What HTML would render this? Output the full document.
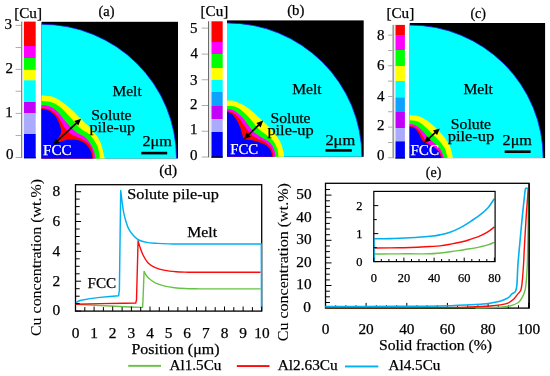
<!DOCTYPE html>
<html><head><meta charset="utf-8"><title>Figure</title>
<style>html,body{margin:0;padding:0;background:#fff}svg{display:block}text{font-family:'Liberation Serif', serif;stroke:#000;stroke-width:0.25px}</style>
</head><body>
<svg width="550" height="376" viewBox="0 0 550 376">
<rect width="550" height="376" fill="#fff"/>
<clipPath id="cpa"><rect x="41.5" y="21.8" width="136.5" height="136.6"/></clipPath>
<rect x="41.5" y="21.8" width="136.5" height="136.6" fill="#000"/>
<g clip-path="url(#cpa)">
<ellipse cx="41.5" cy="158.4" rx="135" ry="134.20000000000002" fill="#00ffff" stroke="#2020ff" stroke-width="0.8"/>
<path d="M41.8,95.4 C43.5,95.6 48.6,95.5 52.0,96.6 C55.4,97.7 58.7,99.8 62.0,102.0 C65.3,104.2 68.7,107.0 72.0,110.0 C75.3,113.0 78.7,116.7 82.0,120.0 C85.3,123.3 89.0,126.3 92.0,130.0 C95.0,133.7 98.2,137.2 100.3,142.0 C102.4,146.8 104.0,155.8 104.8,158.5 L104.8,159.4 L40.5,159.4 L40.5,95.4 Z" fill="#ffff00"/>
<path d="M41.8,101.0 C43.5,101.2 49.0,101.4 52.0,102.4 C55.0,103.4 57.0,104.6 60.0,107.0 C63.0,109.4 66.7,113.5 70.0,117.0 C73.3,120.5 76.7,125.0 80.0,128.0 C83.3,131.0 87.1,132.0 90.0,135.0 C92.9,138.0 95.6,142.1 97.3,146.0 C99.0,149.9 99.5,156.4 100.0,158.5 L100.0,159.4 L40.5,159.4 L40.5,101.0 Z" fill="#00ff00"/>
<path d="M41.8,105.0 C43.2,105.2 47.3,105.2 50.0,106.4 C52.7,107.6 55.3,109.4 58.0,112.0 C60.7,114.6 63.0,118.7 66.0,122.0 C69.0,125.3 72.7,129.3 76.0,132.0 C79.3,134.7 83.2,135.3 86.0,138.0 C88.8,140.7 91.2,144.6 92.8,148.0 C94.4,151.4 95.3,156.8 95.8,158.5 L95.8,159.4 L40.5,159.4 L40.5,105.0 Z" fill="#ff00ff"/>
<path d="M41.6,107.8 C43.1,108.2 48.0,108.5 50.8,110.0 C53.6,111.5 56.1,113.9 58.2,116.6 C60.3,119.3 61.5,123.1 63.5,126.0 C65.5,128.9 67.7,131.8 70.5,133.8 C73.3,135.9 77.5,136.7 80.5,138.3 C83.5,139.9 86.3,141.6 88.3,143.6 C90.2,145.6 91.3,147.9 92.2,150.5 C93.1,153.1 93.4,157.6 93.6,159.0 L93.6,159.4 L40.5,159.4 L40.5,107.8 Z" fill="#ff0000"/>
<path d="M41.6,109.1 C42.9,109.4 47.0,109.7 49.4,111.0 C51.8,112.3 54.4,114.7 56.2,117.2 C58.0,119.7 59.3,123.6 60.1,126.0 C60.9,128.4 61.3,129.9 61.1,131.8 C60.9,133.7 59.8,135.7 58.7,137.6 C57.6,139.5 53.9,142.8 54.3,143.5 C54.7,144.2 58.7,142.2 61.1,141.5 C63.5,140.8 65.9,139.8 68.8,139.6 C71.7,139.4 75.6,139.4 78.5,140.2 C81.4,141.0 84.2,142.4 86.3,144.4 C88.4,146.4 90.2,149.8 91.2,152.2 C92.2,154.6 92.3,157.9 92.5,159.0 L92.5,159.4 L40.5,159.4 L40.5,109.1 Z" fill="#0000ff"/>
</g>
<rect x="24" y="21.6" width="11.7" height="24.7" fill="#ff0000"/>
<rect x="24" y="46" width="11.7" height="12.3" fill="#ff00ff"/>
<rect x="24" y="58" width="11.7" height="12.1" fill="#00ff00"/>
<rect x="24" y="69.8" width="11.7" height="10.8" fill="#ffff00"/>
<rect x="24" y="80.3" width="11.7" height="22.0" fill="#00ffff"/>
<rect x="24" y="102" width="11.7" height="11.3" fill="#c200fa"/>
<rect x="24" y="113" width="11.7" height="21.3" fill="#aaaaff"/>
<rect x="24" y="134" width="11.7" height="24.3" fill="#0000ff"/>
<rect x="24" y="157" width="11.7" height="1.2" fill="#000"/>
<rect x="21.2" y="21.6" width="1.2" height="136.4" fill="#6a6a6a"/>
<rect x="22.4" y="21.6" width="1.6" height="136.4" fill="#ececec"/>
<rect x="15.6" y="24.9" width="5.6" height="0.8" fill="#9a9a9a"/>
<rect x="15.6" y="47.0" width="5.6" height="0.8" fill="#9a9a9a"/>
<rect x="15.6" y="68.9" width="5.6" height="0.8" fill="#9a9a9a"/>
<rect x="15.6" y="90.8" width="5.6" height="0.8" fill="#9a9a9a"/>
<rect x="15.6" y="112.9" width="5.6" height="0.8" fill="#9a9a9a"/>
<rect x="15.6" y="135.0" width="5.6" height="0.8" fill="#9a9a9a"/>
<rect x="15.6" y="157.0" width="5.6" height="0.8" fill="#9a9a9a"/>
<text x="11.9" y="28.8" font-size="13.8" text-anchor="end" fill="#000" textLength="7.5" lengthAdjust="spacingAndGlyphs">3</text>
<text x="13.0" y="73.0" font-size="13.8" text-anchor="end" fill="#000" textLength="7.5" lengthAdjust="spacingAndGlyphs">2</text>
<text x="12.8" y="116.5" font-size="13.8" text-anchor="end" fill="#000" textLength="7.5" lengthAdjust="spacingAndGlyphs">1</text>
<text x="13.4" y="158.8" font-size="13.8" text-anchor="end" fill="#000" textLength="7.5" lengthAdjust="spacingAndGlyphs">0</text>
<text x="14.2" y="17.5" font-size="14.4" text-anchor="start" fill="#000" textLength="27.8" lengthAdjust="spacingAndGlyphs">[Cu]</text>
<text x="98.5" y="16.4" font-size="14.4" text-anchor="start" fill="#000" textLength="16.0" lengthAdjust="spacingAndGlyphs">(a)</text>
<text x="112.5" y="96.3" font-size="14.4" text-anchor="start" fill="#000" textLength="29.2" lengthAdjust="spacingAndGlyphs">Melt</text>
<text x="91.3" y="120.3" font-size="14.4" text-anchor="start" fill="#000" textLength="40.2" lengthAdjust="spacingAndGlyphs">Solute</text>
<text x="89.6" y="132.2" font-size="14.4" text-anchor="start" fill="#000" textLength="45.3" lengthAdjust="spacingAndGlyphs">pile-up</text>
<text x="142.5" y="145.5" font-size="13.8" text-anchor="start" fill="#000" textLength="29.3" lengthAdjust="spacingAndGlyphs">2μm</text>
<rect x="141.3" y="151.8" width="25.9" height="2.6" fill="#000"/>
<text x="43.0" y="154.9" font-size="14.4" text-anchor="start" fill="#fff" style="stroke:#fff" textLength="28.5" lengthAdjust="spacingAndGlyphs">FCC</text>
<line x1="56.7" y1="141.5" x2="77.2" y2="122.3" stroke="#000" stroke-width="1.7"/>
<path d="M52.8,145.1 L59.7,142.8 L55.6,138.4 Z" fill="#000"/>
<path d="M81.1,118.7 L78.3,125.4 L74.2,121.0 Z" fill="#000"/>
<clipPath id="cpb"><rect x="227.0" y="20.4" width="136.7" height="136.4"/></clipPath>
<rect x="227.0" y="20.4" width="136.7" height="136.4" fill="#000"/>
<g clip-path="url(#cpb)">
<ellipse cx="227.0" cy="156.8" rx="134.9" ry="133.9" fill="#00ffff" stroke="#2020ff" stroke-width="0.8"/>
<path d="M227.3,100.6 C228.5,100.7 231.8,100.4 234.6,101.2 C237.4,102.0 241.0,103.7 244.2,105.6 C247.4,107.5 250.6,110.1 253.8,112.8 C257.0,115.5 260.1,118.5 263.3,121.6 C266.5,124.7 270.1,127.9 272.9,131.2 C275.7,134.5 278.4,138.2 280.1,141.5 C281.8,144.8 282.6,148.5 283.3,151.1 C284.0,153.7 284.0,156.0 284.1,157.0 L284.1,157.8 L226.0,157.8 L226.0,100.6 Z" fill="#ffff00"/>
<path d="M227.3,105.9 C228.5,106.0 232.1,105.7 234.6,106.6 C237.1,107.5 239.9,109.1 242.6,111.2 C245.3,113.3 247.9,116.3 250.6,119.2 C253.2,122.1 255.8,126.2 258.5,128.8 C261.1,131.5 264.0,133.0 266.5,135.1 C269.0,137.2 271.9,139.1 273.7,141.5 C275.5,143.9 276.6,146.9 277.4,149.5 C278.2,152.1 278.3,155.8 278.5,157.0 L278.5,157.8 L226.0,157.8 L226.0,105.9 Z" fill="#00ff00"/>
<path d="M227.3,109.2 C228.2,109.3 230.7,109.0 233.0,110.1 C235.3,111.2 238.6,113.7 241.0,116.0 C243.4,118.3 245.3,121.3 247.4,124.0 C249.5,126.7 251.4,129.7 253.8,131.9 C256.2,134.2 259.1,135.8 261.7,137.5 C264.3,139.2 267.6,140.3 269.7,142.3 C271.8,144.3 273.2,147.1 274.2,149.5 C275.2,151.9 275.5,155.8 275.8,157.0 L275.8,157.8 L226.0,157.8 L226.0,109.2 Z" fill="#ff00ff"/>
<path d="M227.3,110.8 C228.2,111.1 231.0,111.2 233.0,112.5 C235.0,113.8 237.5,116.2 239.4,118.4 C241.3,120.6 242.5,123.2 244.2,125.6 C245.9,128.0 247.7,130.6 249.8,132.7 C251.9,134.8 254.4,136.8 256.9,138.3 C259.4,139.8 262.5,140.3 264.9,141.9 C267.3,143.5 269.8,145.4 271.3,147.9 C272.8,150.4 273.3,155.5 273.7,157.0 L273.7,157.8 L226.0,157.8 L226.0,110.8 Z" fill="#ff0000"/>
<path d="M227.3,112.0 C228.0,112.3 229.9,112.4 231.4,113.6 C232.9,114.8 234.7,116.9 236.2,119.2 C237.7,121.5 239.3,125.0 240.2,127.2 C241.1,129.4 241.1,130.7 241.8,132.7 C242.5,134.7 242.7,137.9 244.2,139.1 C245.7,140.3 248.2,139.4 250.6,139.9 C253.0,140.4 256.0,141.1 258.5,141.9 C261.0,142.8 263.7,143.6 265.7,145.0 C267.7,146.4 269.4,148.3 270.5,150.3 C271.6,152.3 272.2,155.9 272.6,157.0 L272.6,157.8 L226.0,157.8 L226.0,112.0 Z" fill="#0000ff"/>
</g>
<rect x="211.3" y="21.3" width="11.4" height="21.0" fill="#ff0000"/>
<rect x="211.3" y="42" width="11.4" height="12.3" fill="#ff00ff"/>
<rect x="211.3" y="54" width="11.4" height="14.3" fill="#00ff00"/>
<rect x="211.3" y="68" width="11.4" height="12.3" fill="#ffff00"/>
<rect x="211.3" y="80" width="11.4" height="12.3" fill="#00ffff"/>
<rect x="211.3" y="92" width="11.4" height="14.3" fill="#0ca2ff"/>
<rect x="211.3" y="106" width="11.4" height="13.3" fill="#c200fa"/>
<rect x="211.3" y="119" width="11.4" height="13.3" fill="#aaaaff"/>
<rect x="211.3" y="132" width="11.4" height="25.7" fill="#0000ff"/>
<rect x="211.3" y="156.4" width="11.4" height="1.2" fill="#000"/>
<rect x="208.0" y="21.3" width="1.2" height="136.1" fill="#6a6a6a"/>
<rect x="209.2" y="21.3" width="2.1" height="136.1" fill="#ececec"/>
<rect x="201.7" y="27.7" width="6.3" height="0.8" fill="#9a9a9a"/>
<rect x="201.7" y="53.7" width="6.3" height="0.8" fill="#9a9a9a"/>
<rect x="201.7" y="79.4" width="6.3" height="0.8" fill="#9a9a9a"/>
<rect x="201.7" y="105.1" width="6.3" height="0.8" fill="#9a9a9a"/>
<rect x="201.7" y="130.8" width="6.3" height="0.8" fill="#9a9a9a"/>
<rect x="201.7" y="156.6" width="6.3" height="0.8" fill="#9a9a9a"/>
<text x="197.6" y="32.6" font-size="13.8" text-anchor="end" fill="#000" textLength="7.5" lengthAdjust="spacingAndGlyphs">5</text>
<text x="198.0" y="58.2" font-size="13.8" text-anchor="end" fill="#000" textLength="7.5" lengthAdjust="spacingAndGlyphs">4</text>
<text x="197.6" y="84.6" font-size="13.8" text-anchor="end" fill="#000" textLength="7.5" lengthAdjust="spacingAndGlyphs">3</text>
<text x="197.6" y="108.9" font-size="13.8" text-anchor="end" fill="#000" textLength="7.5" lengthAdjust="spacingAndGlyphs">2</text>
<text x="197.6" y="133.5" font-size="13.8" text-anchor="end" fill="#000" textLength="7.5" lengthAdjust="spacingAndGlyphs">1</text>
<text x="197.6" y="160.2" font-size="13.8" text-anchor="end" fill="#000" textLength="7.5" lengthAdjust="spacingAndGlyphs">0</text>
<text x="200.6" y="16.4" font-size="14.4" text-anchor="start" fill="#000" textLength="27.6" lengthAdjust="spacingAndGlyphs">[Cu]</text>
<text x="287.2" y="14.5" font-size="14.4" text-anchor="start" fill="#000" textLength="17.2" lengthAdjust="spacingAndGlyphs">(b)</text>
<text x="292.2" y="93.7" font-size="14.4" text-anchor="start" fill="#000" textLength="29.5" lengthAdjust="spacingAndGlyphs">Melt</text>
<text x="270.6" y="122.7" font-size="14.4" text-anchor="start" fill="#000" textLength="39.9" lengthAdjust="spacingAndGlyphs">Solute</text>
<text x="267.4" y="135.2" font-size="14.4" text-anchor="start" fill="#000" textLength="46.3" lengthAdjust="spacingAndGlyphs">pile-up</text>
<text x="325.4" y="144.5" font-size="13.8" text-anchor="start" fill="#000" textLength="29.8" lengthAdjust="spacingAndGlyphs">2μm</text>
<rect x="325.5" y="149.1" width="26.3" height="2.6" fill="#000"/>
<text x="230.2" y="154.0" font-size="14.4" text-anchor="start" fill="#fff" style="stroke:#fff" textLength="27.9" lengthAdjust="spacingAndGlyphs">FCC</text>
<line x1="247.8" y1="135.6" x2="259.4" y2="124.3" stroke="#000" stroke-width="1.7"/>
<path d="M244.0,139.3 L250.8,136.8 L246.6,132.5 Z" fill="#000"/>
<path d="M263.2,120.6 L260.6,127.4 L256.4,123.1 Z" fill="#000"/>
<clipPath id="cpc"><rect x="409.7" y="23.0" width="135.40000000000003" height="135.1"/></clipPath>
<rect x="409.7" y="23.0" width="135.40000000000003" height="135.1" fill="#000"/>
<g clip-path="url(#cpc)">
<ellipse cx="409.7" cy="158.1" rx="133.5" ry="133.1" fill="#00ffff" stroke="#2020ff" stroke-width="0.8"/>
<path d="M409.6,115.2 C411.0,115.3 415.1,115.2 417.9,116.0 C420.7,116.8 423.7,118.4 426.6,120.3 C429.5,122.2 432.3,124.5 435.2,127.3 C438.1,130.1 441.4,133.6 443.8,136.8 C446.2,140.0 448.4,142.8 449.9,146.3 C451.4,149.8 452.5,156.1 453.0,158.0 L453.0,159.1 L408.7,159.1 L408.7,115.2 Z" fill="#ffff00"/>
<path d="M409.6,120.3 C411.0,120.5 415.4,120.6 417.9,121.6 C420.4,122.6 422.5,124.5 424.8,126.4 C427.1,128.4 429.3,131.0 431.6,133.3 C433.9,135.6 436.4,137.8 438.6,140.2 C440.8,142.6 443.1,145.0 444.6,148.0 C446.1,151.0 447.1,156.3 447.6,158.0 L447.6,159.1 L408.7,159.1 L408.7,120.3 Z" fill="#00ff00"/>
<path d="M409.6,123.8 C410.7,124.1 413.9,124.3 416.2,125.6 C418.4,126.9 421.0,129.4 423.1,131.6 C425.2,133.8 427.0,136.3 429.1,138.5 C431.2,140.7 434.0,142.6 436.0,144.6 C438.0,146.6 439.9,148.4 441.2,150.6 C442.5,152.8 443.4,156.8 443.8,158.0 L443.8,159.1 L408.7,159.1 L408.7,123.8 Z" fill="#ff00ff"/>
<path d="M409.6,125.6 C410.6,125.9 413.5,126.2 415.3,127.3 C417.1,128.4 419.0,130.4 420.6,132.4 C422.2,134.4 423.1,137.3 424.8,139.4 C426.5,141.5 428.8,143.3 430.8,144.9 C432.8,146.5 435.2,147.4 436.9,148.9 C438.6,150.4 440.2,152.5 441.2,154.0 C442.1,155.5 442.4,157.3 442.6,158.0 L442.6,159.1 L408.7,159.1 L408.7,125.6 Z" fill="#ff0000"/>
<path d="M409.6,126.4 C410.4,126.7 412.9,126.9 414.4,128.1 C415.9,129.2 417.4,131.3 418.7,133.3 C420.0,135.3 420.9,138.5 422.2,140.2 C423.5,141.9 424.7,142.4 426.6,143.6 C428.5,144.8 431.4,145.8 433.4,147.1 C435.4,148.4 437.3,149.6 438.6,151.4 C439.9,153.2 440.8,156.9 441.2,158.0 L441.2,159.1 L408.7,159.1 L408.7,126.4 Z" fill="#0000ff"/>
</g>
<rect x="395.3" y="24.9" width="9.6" height="10.5" fill="#ff0000"/>
<rect x="395.3" y="35.1" width="9.6" height="15.2" fill="#ff00ff"/>
<rect x="395.3" y="50" width="9.6" height="16.3" fill="#00ff00"/>
<rect x="395.3" y="66" width="9.6" height="15.3" fill="#ffff00"/>
<rect x="395.3" y="81" width="9.6" height="16.8" fill="#00ffff"/>
<rect x="395.3" y="97.5" width="9.6" height="14.8" fill="#0ca2ff"/>
<rect x="395.3" y="112" width="9.6" height="16.3" fill="#c200fa"/>
<rect x="395.3" y="128" width="9.6" height="13.7" fill="#aaaaff"/>
<rect x="395.3" y="141.4" width="9.6" height="17.1" fill="#0000ff"/>
<rect x="395.3" y="157.2" width="9.6" height="1.2" fill="#000"/>
<rect x="392.6" y="24.9" width="1.2" height="133.3" fill="#6a6a6a"/>
<rect x="393.8" y="24.9" width="1.5" height="133.3" fill="#ececec"/>
<rect x="388.0" y="157.4" width="4.6" height="0.8" fill="#9a9a9a"/>
<rect x="388.0" y="142.1" width="4.6" height="0.8" fill="#9a9a9a"/>
<rect x="388.0" y="126.7" width="4.6" height="0.8" fill="#9a9a9a"/>
<rect x="388.0" y="111.4" width="4.6" height="0.8" fill="#9a9a9a"/>
<rect x="388.0" y="96.0" width="4.6" height="0.8" fill="#9a9a9a"/>
<rect x="388.0" y="80.7" width="4.6" height="0.8" fill="#9a9a9a"/>
<rect x="388.0" y="65.4" width="4.6" height="0.8" fill="#9a9a9a"/>
<rect x="388.0" y="50.0" width="4.6" height="0.8" fill="#9a9a9a"/>
<rect x="388.0" y="34.7" width="4.6" height="0.8" fill="#9a9a9a"/>
<text x="384.6" y="39.6" font-size="13.8" text-anchor="end" fill="#000" textLength="7.5" lengthAdjust="spacingAndGlyphs">8</text>
<text x="384.6" y="70.2" font-size="13.8" text-anchor="end" fill="#000" textLength="7.5" lengthAdjust="spacingAndGlyphs">6</text>
<text x="384.6" y="100.8" font-size="13.8" text-anchor="end" fill="#000" textLength="7.5" lengthAdjust="spacingAndGlyphs">4</text>
<text x="384.6" y="129.9" font-size="13.8" text-anchor="end" fill="#000" textLength="7.5" lengthAdjust="spacingAndGlyphs">2</text>
<text x="384.6" y="160.4" font-size="13.8" text-anchor="end" fill="#000" textLength="7.5" lengthAdjust="spacingAndGlyphs">0</text>
<text x="386.4" y="17.7" font-size="14.4" text-anchor="start" fill="#000" textLength="27.8" lengthAdjust="spacingAndGlyphs">[Cu]</text>
<text x="470.4" y="17.7" font-size="14.4" text-anchor="start" fill="#000" textLength="15.6" lengthAdjust="spacingAndGlyphs">(c)</text>
<text x="463.4" y="93.7" font-size="14.4" text-anchor="start" fill="#000" textLength="29.5" lengthAdjust="spacingAndGlyphs">Melt</text>
<text x="450.8" y="129.4" font-size="14.4" text-anchor="start" fill="#000" textLength="40.2" lengthAdjust="spacingAndGlyphs">Solute</text>
<text x="447.8" y="141.0" font-size="14.4" text-anchor="start" fill="#000" textLength="46.4" lengthAdjust="spacingAndGlyphs">pile-up</text>
<text x="502.6" y="145.2" font-size="13.8" text-anchor="start" fill="#000" textLength="29.3" lengthAdjust="spacingAndGlyphs">2μm</text>
<rect x="504.6" y="150.4" width="26" height="2.6" fill="#000"/>
<text x="410.4" y="155.3" font-size="14.4" text-anchor="start" fill="#fff" style="stroke:#fff" textLength="28.6" lengthAdjust="spacingAndGlyphs">FCC</text>
<line x1="427.9" y1="139.3" x2="436.0" y2="131.9" stroke="#000" stroke-width="1.7"/>
<path d="M424.1,142.7 L430.9,140.6 L426.8,136.2 Z" fill="#000"/>
<path d="M439.8,128.5 L437.1,135.0 L433.0,130.6 Z" fill="#000"/>
<path d="M168.8,156.4 h4.5 M170.8,156.4 v1.6" stroke="#5fc9d6" stroke-width="0.6" fill="none"/>
<path d="M354.2,154.8 h4.5 M356.2,154.8 v1.6" stroke="#5fc9d6" stroke-width="0.6" fill="none"/>
<path d="M535.4,156.2 h4.5 M537.4,156.2 v1.6" stroke="#5fc9d6" stroke-width="0.6" fill="none"/>
<rect x="75.5" y="184.7" width="186.2" height="126.4" fill="none" stroke="#000" stroke-width="1.3"/>
<path d="M75.8,304.4 L90,305 L110,306 L130,307 L141.6,307.4 L142.6,307.2 L143,300 L144.1,271.4 C144.5,272.1 145.4,274.3 146.5,275.7 C147.6,277.1 148.8,278.4 150.5,279.7 C152.2,281.0 154.5,282.6 156.9,283.7 C159.3,284.8 162.0,285.4 164.9,286.1 C167.8,286.8 171.2,287.3 174.5,287.7 C177.8,288.1 180.8,288.3 185.0,288.5 C189.2,288.7 197.5,288.8 200.0,288.9 L260.6,288.9" fill="none" stroke="#66c244" stroke-width="1.4" stroke-linejoin="round"/>
<path d="M75.8,304.2 L100,303.6 L125,303.3 L135.7,303.1 L136.5,300 L138.1,240.6 C138.4,241.8 139.3,245.3 140.2,247.8 C141.1,250.3 142.1,253.2 143.4,255.7 C144.7,258.2 146.1,260.9 148.1,262.9 C150.1,264.9 152.5,266.4 155.3,267.7 C158.1,268.9 161.4,269.7 164.9,270.4 C168.4,271.1 172.2,271.4 176.1,271.7 C179.9,272.0 186.0,272.1 188.0,272.2 L260.6,272.2" fill="none" stroke="#ff0a0a" stroke-width="1.4" stroke-linejoin="round"/>
<path d="M75.8,302.5 L80,300.5 L90,298.6 L100,297.4 L110,296.5 L118.6,295.8 L119.4,290 L120.7,190.6 C120.9,192.3 121.5,197.4 122.0,201.0 C122.5,204.6 122.9,208.7 123.6,212.1 C124.3,215.5 125.1,218.8 126.0,221.7 C126.9,224.6 127.8,227.3 129.1,229.7 C130.4,232.1 132.3,234.4 133.9,236.1 C135.5,237.8 136.6,238.9 138.7,240.0 C140.8,241.1 143.5,241.8 146.7,242.4 C149.9,243.0 153.7,243.1 157.9,243.4 C162.1,243.7 169.7,243.9 172.0,244.0 L261.3,244 L261.5,308.5" fill="none" stroke="#00b0f0" stroke-width="1.45" stroke-linejoin="round"/>
<rect x="75.0" y="306.5" width="1" height="4.6" fill="#000"/>
<rect x="84.3" y="307.1" width="1" height="4" fill="#000"/>
<rect x="93.6" y="306.5" width="1" height="4.6" fill="#000"/>
<rect x="102.9" y="307.1" width="1" height="4" fill="#000"/>
<rect x="112.2" y="306.5" width="1" height="4.6" fill="#000"/>
<rect x="121.6" y="307.1" width="1" height="4" fill="#000"/>
<rect x="130.9" y="306.5" width="1" height="4.6" fill="#000"/>
<rect x="140.2" y="307.1" width="1" height="4" fill="#000"/>
<rect x="149.5" y="306.5" width="1" height="4.6" fill="#000"/>
<rect x="158.8" y="307.1" width="1" height="4" fill="#000"/>
<rect x="168.1" y="306.5" width="1" height="4.6" fill="#000"/>
<rect x="177.4" y="307.1" width="1" height="4" fill="#000"/>
<rect x="186.7" y="306.5" width="1" height="4.6" fill="#000"/>
<rect x="196.0" y="307.1" width="1" height="4" fill="#000"/>
<rect x="205.3" y="306.5" width="1" height="4.6" fill="#000"/>
<rect x="214.7" y="307.1" width="1" height="4" fill="#000"/>
<rect x="224.0" y="306.5" width="1" height="4.6" fill="#000"/>
<rect x="233.3" y="307.1" width="1" height="4" fill="#000"/>
<rect x="242.6" y="306.5" width="1" height="4.6" fill="#000"/>
<rect x="251.9" y="307.1" width="1" height="4" fill="#000"/>
<rect x="261.2" y="306.5" width="1" height="4.6" fill="#000"/>
<rect x="75.5" y="310.6" width="5.6" height="1" fill="#000"/>
<rect x="75.5" y="303.1" width="4.2" height="1" fill="#000"/>
<rect x="75.5" y="295.7" width="4.2" height="1" fill="#000"/>
<rect x="75.5" y="288.2" width="4.2" height="1" fill="#000"/>
<rect x="75.5" y="280.7" width="5.6" height="1" fill="#000"/>
<rect x="75.5" y="273.3" width="4.2" height="1" fill="#000"/>
<rect x="75.5" y="265.8" width="4.2" height="1" fill="#000"/>
<rect x="75.5" y="258.3" width="4.2" height="1" fill="#000"/>
<rect x="75.5" y="250.9" width="5.6" height="1" fill="#000"/>
<rect x="75.5" y="243.4" width="4.2" height="1" fill="#000"/>
<rect x="75.5" y="236.0" width="4.2" height="1" fill="#000"/>
<rect x="75.5" y="228.5" width="4.2" height="1" fill="#000"/>
<rect x="75.5" y="221.0" width="5.6" height="1" fill="#000"/>
<rect x="75.5" y="213.6" width="4.2" height="1" fill="#000"/>
<rect x="75.5" y="206.1" width="4.2" height="1" fill="#000"/>
<rect x="75.5" y="198.6" width="4.2" height="1" fill="#000"/>
<rect x="75.5" y="191.2" width="5.6" height="1" fill="#000"/>
<text x="75.5" y="337.5" font-size="14.3" text-anchor="middle" fill="#000" textLength="7.7" lengthAdjust="spacingAndGlyphs">0</text>
<text x="94.1" y="337.5" font-size="14.3" text-anchor="middle" fill="#000" textLength="7.7" lengthAdjust="spacingAndGlyphs">1</text>
<text x="112.7" y="337.5" font-size="14.3" text-anchor="middle" fill="#000" textLength="7.7" lengthAdjust="spacingAndGlyphs">2</text>
<text x="131.4" y="337.5" font-size="14.3" text-anchor="middle" fill="#000" textLength="7.7" lengthAdjust="spacingAndGlyphs">3</text>
<text x="150.0" y="337.5" font-size="14.3" text-anchor="middle" fill="#000" textLength="7.7" lengthAdjust="spacingAndGlyphs">4</text>
<text x="168.6" y="337.5" font-size="14.3" text-anchor="middle" fill="#000" textLength="7.7" lengthAdjust="spacingAndGlyphs">5</text>
<text x="187.2" y="337.5" font-size="14.3" text-anchor="middle" fill="#000" textLength="7.7" lengthAdjust="spacingAndGlyphs">6</text>
<text x="205.8" y="337.5" font-size="14.3" text-anchor="middle" fill="#000" textLength="7.7" lengthAdjust="spacingAndGlyphs">7</text>
<text x="224.5" y="337.5" font-size="14.3" text-anchor="middle" fill="#000" textLength="7.7" lengthAdjust="spacingAndGlyphs">8</text>
<text x="243.1" y="337.5" font-size="14.3" text-anchor="middle" fill="#000" textLength="7.7" lengthAdjust="spacingAndGlyphs">9</text>
<text x="262.0" y="337.5" font-size="14.3" text-anchor="middle" fill="#000" textLength="15.3" lengthAdjust="spacingAndGlyphs">10</text>
<text x="56.3" y="315.1" font-size="14.3" text-anchor="middle" fill="#000" textLength="7.7" lengthAdjust="spacingAndGlyphs">0</text>
<text x="56.3" y="285.6" font-size="14.3" text-anchor="middle" fill="#000" textLength="7.7" lengthAdjust="spacingAndGlyphs">2</text>
<text x="56.3" y="255.8" font-size="14.3" text-anchor="middle" fill="#000" textLength="7.7" lengthAdjust="spacingAndGlyphs">4</text>
<text x="56.3" y="225.9" font-size="14.3" text-anchor="middle" fill="#000" textLength="7.7" lengthAdjust="spacingAndGlyphs">6</text>
<text x="56.3" y="196.1" font-size="14.3" text-anchor="middle" fill="#000" textLength="7.7" lengthAdjust="spacingAndGlyphs">8</text>
<text transform="translate(40.6,336) rotate(-90)" font-size="15.4" style="stroke-width:0.1px" textLength="157" lengthAdjust="spacingAndGlyphs">Cu concentration (wt.%)</text>
<text x="131.4" y="353.6" font-size="15.3" text-anchor="start" fill="#000" textLength="88.1" lengthAdjust="spacingAndGlyphs">Position (μm)</text>
<text x="159.2" y="175.4" font-size="15.2" text-anchor="start" fill="#000" textLength="18.0" lengthAdjust="spacingAndGlyphs">(d)</text>
<text x="127.3" y="199.3" font-size="15.2" text-anchor="start" fill="#000" textLength="91.5" lengthAdjust="spacingAndGlyphs">Solute pile-up</text>
<text x="187.3" y="237.2" font-size="15.2" text-anchor="start" fill="#000" textLength="29.8" lengthAdjust="spacingAndGlyphs">Melt</text>
<text x="87.5" y="287.7" font-size="15.2" text-anchor="start" fill="#000" textLength="28.7" lengthAdjust="spacingAndGlyphs">FCC</text>
<rect x="128.2" y="364.9" width="32.8" height="1.9" fill="#66c244"/>
<text x="169.5" y="370.0" font-size="15" text-anchor="start" fill="#000" textLength="51.9" lengthAdjust="spacingAndGlyphs">Al1.5Cu</text>
<rect x="236.8" y="365.1" width="32.7" height="1.9" fill="#ff0a0a"/>
<text x="277.7" y="370.0" font-size="15" text-anchor="start" fill="#000" textLength="60.0" lengthAdjust="spacingAndGlyphs">Al2.63Cu</text>
<rect x="345" y="365.5" width="33.3" height="1.9" fill="#00b0f0"/>
<text x="388.6" y="370.0" font-size="15" text-anchor="start" fill="#000" textLength="51.8" lengthAdjust="spacingAndGlyphs">Al4.5Cu</text>
<rect x="325.5" y="183.3" width="203.6" height="124.8" fill="none" stroke="#000" stroke-width="1.3"/>
<rect x="325.0" y="302.9" width="1" height="5.2" fill="#000"/>
<rect x="335.2" y="305.3" width="1" height="2.8" fill="#000"/>
<rect x="345.3" y="305.3" width="1" height="2.8" fill="#000"/>
<rect x="355.5" y="305.3" width="1" height="2.8" fill="#000"/>
<rect x="365.6" y="302.9" width="1" height="5.2" fill="#000"/>
<rect x="375.8" y="305.3" width="1" height="2.8" fill="#000"/>
<rect x="386.0" y="305.3" width="1" height="2.8" fill="#000"/>
<rect x="396.1" y="305.3" width="1" height="2.8" fill="#000"/>
<rect x="406.3" y="302.9" width="1" height="5.2" fill="#000"/>
<rect x="416.4" y="305.3" width="1" height="2.8" fill="#000"/>
<rect x="426.6" y="305.3" width="1" height="2.8" fill="#000"/>
<rect x="436.8" y="305.3" width="1" height="2.8" fill="#000"/>
<rect x="446.9" y="302.9" width="1" height="5.2" fill="#000"/>
<rect x="457.1" y="305.3" width="1" height="2.8" fill="#000"/>
<rect x="467.2" y="305.3" width="1" height="2.8" fill="#000"/>
<rect x="477.4" y="305.3" width="1" height="2.8" fill="#000"/>
<rect x="487.6" y="302.9" width="1" height="5.2" fill="#000"/>
<rect x="497.7" y="305.3" width="1" height="2.8" fill="#000"/>
<rect x="507.9" y="305.3" width="1" height="2.8" fill="#000"/>
<rect x="518.0" y="305.3" width="1" height="2.8" fill="#000"/>
<rect x="528.2" y="302.9" width="1" height="5.2" fill="#000"/>
<rect x="325.5" y="307.6" width="6" height="1" fill="#000"/>
<rect x="325.5" y="302.0" width="4.4" height="1" fill="#000"/>
<rect x="325.5" y="296.3" width="4.4" height="1" fill="#000"/>
<rect x="325.5" y="290.7" width="4.4" height="1" fill="#000"/>
<rect x="325.5" y="285.0" width="6" height="1" fill="#000"/>
<rect x="325.5" y="279.4" width="4.4" height="1" fill="#000"/>
<rect x="325.5" y="273.7" width="4.4" height="1" fill="#000"/>
<rect x="325.5" y="268.1" width="4.4" height="1" fill="#000"/>
<rect x="325.5" y="262.4" width="6" height="1" fill="#000"/>
<rect x="325.5" y="256.8" width="4.4" height="1" fill="#000"/>
<rect x="325.5" y="251.1" width="4.4" height="1" fill="#000"/>
<rect x="325.5" y="245.5" width="4.4" height="1" fill="#000"/>
<rect x="325.5" y="239.8" width="6" height="1" fill="#000"/>
<rect x="325.5" y="234.2" width="4.4" height="1" fill="#000"/>
<rect x="325.5" y="228.5" width="4.4" height="1" fill="#000"/>
<rect x="325.5" y="222.9" width="4.4" height="1" fill="#000"/>
<rect x="325.5" y="217.2" width="6" height="1" fill="#000"/>
<rect x="325.5" y="211.6" width="4.4" height="1" fill="#000"/>
<rect x="325.5" y="205.9" width="4.4" height="1" fill="#000"/>
<rect x="325.5" y="200.3" width="4.4" height="1" fill="#000"/>
<rect x="325.5" y="194.6" width="6" height="1" fill="#000"/>
<rect x="325.5" y="189.0" width="4.4" height="1" fill="#000"/>
<path d="M325.6,308.2 C338.0,308.2 375.9,308.1 400.0,308.1 C424.1,308.1 453.3,308.1 470.0,308.0 C486.7,307.9 493.4,307.5 500.0,307.2 C506.6,306.9 506.9,306.7 509.9,306.0 C512.9,305.3 515.9,304.2 517.9,302.8 C519.9,301.4 520.7,299.9 521.9,297.9 C523.1,295.9 524.2,293.7 524.9,290.9 C525.6,288.1 525.9,285.2 526.3,280.9 C526.7,276.6 527.0,271.0 527.3,265.0 C527.5,259.0 527.6,253.3 527.8,245.0 C527.9,236.7 528.1,224.2 528.2,215.0 C528.3,205.8 528.4,194.2 528.4,190.0" fill="none" stroke="#66c244" stroke-width="1.4" stroke-linejoin="round"/>
<rect x="325.5" y="307.80" width="150" height="0.95" fill="#1a1a00"/>
<path d="M325.6,307.6 C338.0,307.6 379.3,307.5 400.0,307.5 C420.7,307.5 438.3,307.5 450.0,307.4 C461.7,307.3 463.3,307.2 470.0,307.0 C476.7,306.8 485.0,306.4 490.0,306.0 C495.0,305.6 497.0,305.4 500.0,304.9 C503.0,304.4 505.6,304.2 507.9,303.2 C510.2,302.2 512.2,300.4 513.9,298.9 C515.6,297.3 516.7,295.4 517.9,293.9 C519.1,292.4 520.2,292.1 520.9,289.9 C521.6,287.7 521.9,285.0 522.3,280.9 C522.7,276.8 523.1,271.0 523.5,265.0 C523.9,259.0 524.0,253.3 524.5,245.0 C525.0,236.7 525.7,223.7 526.3,215.0 C526.9,206.3 527.6,197.3 527.9,193.0 C528.2,188.7 528.2,189.7 528.2,189.0" fill="none" stroke="#ff0a0a" stroke-width="1.4" stroke-linejoin="round"/>
<path d="M325.2,306.5 C337.7,306.5 380.9,306.5 400.0,306.4 C419.1,306.3 428.3,306.3 440.0,306.0 C451.7,305.7 463.3,305.1 470.0,304.8 C476.7,304.5 476.7,304.5 480.0,304.2 C483.3,303.9 486.7,303.7 490.0,303.2 C493.3,302.7 497.0,302.2 500.0,301.3 C503.0,300.4 505.9,299.1 507.9,297.9 C509.9,296.7 510.6,295.0 511.9,293.9 C513.2,292.8 514.7,292.8 515.5,291.3 C516.3,289.8 516.5,289.3 516.9,284.9 C517.3,280.5 517.5,270.8 517.9,265.0 C518.3,259.2 518.6,256.7 519.2,250.0 C519.8,243.3 520.6,234.5 521.5,225.0 C522.4,215.5 524.1,199.1 524.8,193.0 C525.5,186.9 525.6,189.2 525.7,188.4 L528.4,188.4" fill="none" stroke="#00b0f0" stroke-width="1.6" stroke-linejoin="round"/>
<rect x="528.45" y="183.3" width="1.3" height="124.8" fill="#000"/>
<text x="325.5" y="334.3" font-size="14.3" text-anchor="middle" fill="#000" textLength="7.7" lengthAdjust="spacingAndGlyphs">0</text>
<text x="366.1" y="334.3" font-size="14.3" text-anchor="middle" fill="#000" textLength="15.3" lengthAdjust="spacingAndGlyphs">20</text>
<text x="406.8" y="334.3" font-size="14.3" text-anchor="middle" fill="#000" textLength="15.3" lengthAdjust="spacingAndGlyphs">40</text>
<text x="447.4" y="334.3" font-size="14.3" text-anchor="middle" fill="#000" textLength="15.3" lengthAdjust="spacingAndGlyphs">60</text>
<text x="488.1" y="334.3" font-size="14.3" text-anchor="middle" fill="#000" textLength="15.3" lengthAdjust="spacingAndGlyphs">80</text>
<text x="528.7" y="334.3" font-size="14.3" text-anchor="middle" fill="#000" textLength="23.0" lengthAdjust="spacingAndGlyphs">100</text>
<text x="311.0" y="312.0" font-size="14.3" text-anchor="end" fill="#000" textLength="7.7" lengthAdjust="spacingAndGlyphs">0</text>
<text x="311.6" y="289.4" font-size="14.3" text-anchor="end" fill="#000" textLength="15.3" lengthAdjust="spacingAndGlyphs">10</text>
<text x="311.6" y="266.8" font-size="14.3" text-anchor="end" fill="#000" textLength="15.3" lengthAdjust="spacingAndGlyphs">20</text>
<text x="311.6" y="244.2" font-size="14.3" text-anchor="end" fill="#000" textLength="15.3" lengthAdjust="spacingAndGlyphs">30</text>
<text x="311.6" y="221.6" font-size="14.3" text-anchor="end" fill="#000" textLength="15.3" lengthAdjust="spacingAndGlyphs">40</text>
<text x="311.6" y="199.0" font-size="14.3" text-anchor="end" fill="#000" textLength="15.3" lengthAdjust="spacingAndGlyphs">50</text>
<text transform="translate(288.2,341.3) rotate(-90)" font-size="15.4" style="stroke-width:0.1px" textLength="158.2" lengthAdjust="spacingAndGlyphs">Cu concentration (wt.%)</text>
<text x="379.0" y="350.0" font-size="15.2" text-anchor="start" fill="#000" textLength="113.0" lengthAdjust="spacingAndGlyphs">Solid fraction (%)</text>
<text x="425.8" y="177.2" font-size="15.2" text-anchor="start" fill="#000" textLength="15.5" lengthAdjust="spacingAndGlyphs">(e)</text>
<rect x="373.8" y="191.4" width="121.3" height="70.2" fill="#fff"/>
<path d="M374.3,254.0 C376.9,254.0 385.1,253.9 390.0,253.9 C394.9,253.9 399.3,253.8 404.0,253.8 C408.7,253.8 413.7,253.9 418.0,253.9 C422.3,253.9 426.3,254.0 430.0,253.8 C433.7,253.7 436.7,253.3 440.0,253.0 C443.3,252.7 446.7,252.2 450.0,251.8 C453.3,251.4 456.7,250.9 460.0,250.4 C463.3,249.9 466.7,249.4 470.0,248.8 C473.3,248.2 477.0,247.6 480.0,246.9 C483.0,246.2 485.4,245.7 487.8,244.9 C490.2,244.1 493.3,242.7 494.4,242.3" fill="none" stroke="#66c244" stroke-width="1.4" stroke-linejoin="round"/>
<path d="M374.3,248.0 C376.9,248.0 385.1,248.0 390.0,247.9 C394.9,247.8 399.3,247.8 404.0,247.7 C408.7,247.6 413.7,247.4 418.0,247.2 C422.3,247.0 426.3,246.7 430.0,246.5 C433.7,246.3 436.7,246.3 440.0,245.9 C443.3,245.5 446.7,244.9 450.0,244.3 C453.3,243.7 456.7,243.1 460.0,242.3 C463.3,241.5 466.7,240.6 470.0,239.5 C473.3,238.4 477.0,237.2 480.0,235.9 C483.0,234.6 485.4,233.4 487.8,231.9 C490.2,230.4 493.3,227.7 494.4,226.9" fill="none" stroke="#ff0a0a" stroke-width="1.4" stroke-linejoin="round"/>
<path d="M374.3,238.8 C376.9,238.8 385.1,238.7 390.0,238.6 C394.9,238.5 399.3,238.2 404.0,238.0 C408.7,237.8 413.7,237.6 418.0,237.3 C422.3,237.0 426.3,236.7 430.0,236.3 C433.7,235.9 436.7,235.6 440.0,234.9 C443.3,234.2 446.7,233.5 450.0,232.3 C453.3,231.1 456.7,229.6 460.0,227.9 C463.3,226.2 466.7,224.1 470.0,221.9 C473.3,219.7 477.0,217.2 480.0,214.9 C483.0,212.6 485.4,210.7 487.8,208.0 C490.2,205.3 493.3,200.2 494.4,198.6" fill="none" stroke="#00b0f0" stroke-width="1.6" stroke-linejoin="round"/>
<rect x="373.8" y="191.4" width="121.3" height="70.2" fill="none" stroke="#000" stroke-width="1.2"/>
<rect x="374.1" y="238.8" width="1" height="22.2" fill="#00b0f0" opacity="0.8"/>
<rect x="373.3" y="257.6" width="1" height="4" fill="#000"/>
<rect x="380.8" y="259.0" width="1" height="2.6" fill="#000"/>
<rect x="388.4" y="259.0" width="1" height="2.6" fill="#000"/>
<rect x="395.9" y="259.0" width="1" height="2.6" fill="#000"/>
<rect x="403.4" y="257.6" width="1" height="4" fill="#000"/>
<rect x="411.0" y="259.0" width="1" height="2.6" fill="#000"/>
<rect x="418.5" y="259.0" width="1" height="2.6" fill="#000"/>
<rect x="426.0" y="259.0" width="1" height="2.6" fill="#000"/>
<rect x="433.6" y="257.6" width="1" height="4" fill="#000"/>
<rect x="441.1" y="259.0" width="1" height="2.6" fill="#000"/>
<rect x="448.6" y="259.0" width="1" height="2.6" fill="#000"/>
<rect x="456.2" y="259.0" width="1" height="2.6" fill="#000"/>
<rect x="463.7" y="257.6" width="1" height="4" fill="#000"/>
<rect x="471.3" y="259.0" width="1" height="2.6" fill="#000"/>
<rect x="478.8" y="259.0" width="1" height="2.6" fill="#000"/>
<rect x="486.3" y="259.0" width="1" height="2.6" fill="#000"/>
<rect x="493.9" y="257.6" width="1" height="4" fill="#000"/>
<rect x="373.8" y="261.1" width="4.5" height="1" fill="#000"/>
<rect x="373.8" y="247.1" width="3" height="1" fill="#000"/>
<rect x="373.8" y="233.1" width="4.5" height="1" fill="#000"/>
<rect x="373.8" y="219.1" width="3" height="1" fill="#000"/>
<rect x="373.8" y="205.1" width="4.5" height="1" fill="#000"/>
<text x="373.8" y="281.5" font-size="11.6" text-anchor="middle" fill="#000" textLength="6.2" lengthAdjust="spacingAndGlyphs">0</text>
<text x="403.9" y="281.5" font-size="11.6" text-anchor="middle" fill="#000" textLength="12.4" lengthAdjust="spacingAndGlyphs">20</text>
<text x="434.1" y="281.5" font-size="11.6" text-anchor="middle" fill="#000" textLength="12.4" lengthAdjust="spacingAndGlyphs">40</text>
<text x="464.2" y="281.5" font-size="11.6" text-anchor="middle" fill="#000" textLength="12.4" lengthAdjust="spacingAndGlyphs">60</text>
<text x="494.4" y="281.5" font-size="11.6" text-anchor="middle" fill="#000" textLength="12.4" lengthAdjust="spacingAndGlyphs">80</text>
<text x="359.4" y="265.5" font-size="11.6" text-anchor="middle" fill="#000" textLength="6.2" lengthAdjust="spacingAndGlyphs">0</text>
<text x="359.4" y="237.5" font-size="11.6" text-anchor="middle" fill="#000" textLength="6.2" lengthAdjust="spacingAndGlyphs">1</text>
<text x="359.4" y="209.5" font-size="11.6" text-anchor="middle" fill="#000" textLength="6.2" lengthAdjust="spacingAndGlyphs">2</text>
</svg>
</body></html>
